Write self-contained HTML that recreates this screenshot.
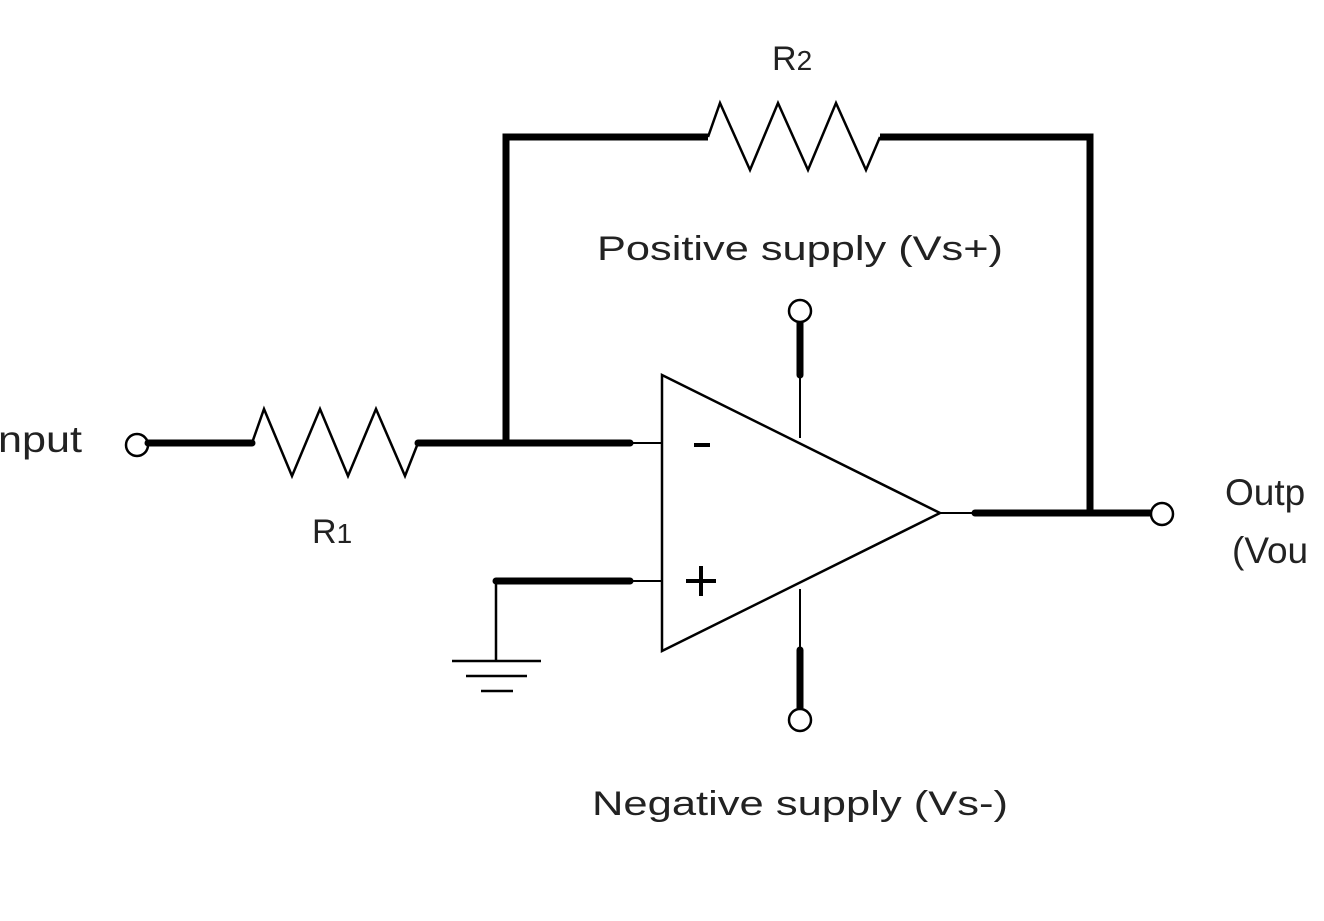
<!DOCTYPE html>
<html><head><meta charset="utf-8"><style>html,body{margin:0;padding:0;background:#fff;}svg{display:block}</style></head>
<body>
<svg width="1324" height="921" viewBox="0 0 1324 921" xmlns="http://www.w3.org/2000/svg" font-family="Liberation Sans, sans-serif" fill="none" stroke="#000">
<!-- input -->
<circle cx="137" cy="445" r="11" stroke-width="2.5" fill="#fff"/>
<line x1="148" y1="443" x2="252" y2="443" stroke-width="7" stroke-linecap="round"/>
<polyline points="252,443 264,409 292,476 320,409 348,476 376,409 405,476 418,443" stroke-width="2.5" stroke-linejoin="miter"/>
<line x1="418" y1="443" x2="630" y2="443" stroke-width="7" stroke-linecap="round"/>
<line x1="630" y1="443" x2="662" y2="443" stroke-width="2"/>
<!-- feedback -->
<polyline points="506,443 506,137 708,137" stroke-width="7"/>
<polyline points="708,137 720,103 750,170 778,103 808,170 836,103 866,170 880,137" stroke-width="2.5"/>
<polyline points="880,137 1090,137 1090,513" stroke-width="7"/>
<!-- op amp -->
<polygon points="662,375 662,651 940,513" stroke-width="2.5" fill="#fff"/>
<line x1="940" y1="513" x2="975" y2="513" stroke-width="2"/>
<line x1="975" y1="513" x2="1150" y2="513" stroke-width="7" stroke-linecap="round"/>
<circle cx="1162" cy="514" r="11" stroke-width="2.5" fill="#fff"/>
<!-- supplies -->
<line x1="800" y1="375" x2="800" y2="438" stroke-width="2"/>
<line x1="800" y1="322" x2="800" y2="375" stroke-width="7" stroke-linecap="round"/>
<circle cx="800" cy="311" r="11" stroke-width="2.5" fill="#fff"/>
<line x1="800" y1="589" x2="800" y2="650" stroke-width="2"/>
<line x1="800" y1="650" x2="800" y2="708" stroke-width="7" stroke-linecap="round"/>
<circle cx="800" cy="720" r="11" stroke-width="2.5" fill="#fff"/>
<!-- plus input / ground -->
<line x1="496" y1="581" x2="630" y2="581" stroke-width="7" stroke-linecap="round"/>
<line x1="630" y1="581" x2="662" y2="581" stroke-width="2"/>
<line x1="496" y1="581" x2="496" y2="661" stroke-width="2.5"/>
<line x1="452" y1="661" x2="541" y2="661" stroke-width="2.5"/>
<line x1="466" y1="676" x2="527" y2="676" stroke-width="2.5"/>
<line x1="481" y1="691" x2="513" y2="691" stroke-width="2.5"/>
<!-- signs -->
<line x1="694" y1="445" x2="710" y2="445" stroke-width="4"/>
<line x1="686" y1="581" x2="716" y2="581" stroke-width="4"/>
<line x1="701" y1="566" x2="701" y2="596" stroke-width="4"/>
<!-- labels -->
<g fill="#222" stroke="none" font-size="34">
<text x="772" y="70">R<tspan font-size="28">2</tspan></text>
<text x="312" y="543">R<tspan font-size="28">1</tspan></text>
<text x="597" y="260" textLength="406" lengthAdjust="spacingAndGlyphs">Positive supply (Vs+)</text>
<text x="592" y="815" textLength="416" lengthAdjust="spacingAndGlyphs">Negative supply (Vs-)</text>
<text x="-2" y="452" font-size="37" textLength="84" lengthAdjust="spacingAndGlyphs">nput</text>
<text x="1225" y="505" font-size="37">Outp</text>
<text x="1232" y="563" font-size="37">(Vou</text>
</g>
</svg>
</body></html>
